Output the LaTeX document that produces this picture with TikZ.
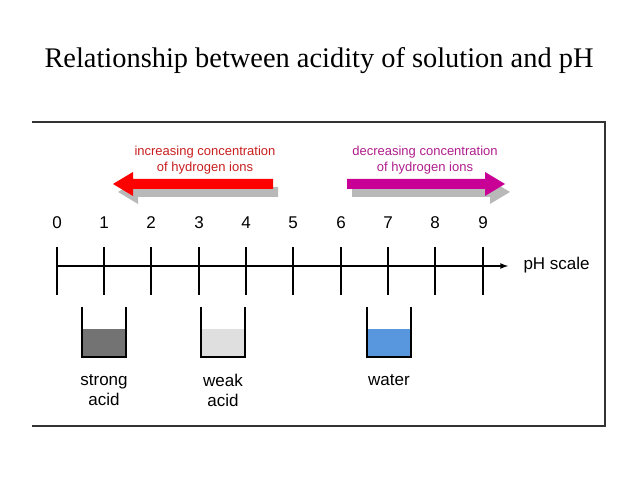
\documentclass[tikz,border=0pt]{standalone}
\usepackage{fontspec}
\setmainfont{Liberation Serif}
\newfontfamily\arial{Liberation Sans}
\definecolor{waterc}{RGB}{88,150,222}
\definecolor{purp}{RGB}{200,0,150}
\definecolor{purptxt}{RGB}{175,30,140}
\definecolor{redtxt}{RGB}{200,30,30}
\begin{document}
\begin{tikzpicture}[x=1pt,y=-1pt,
  lbl/.style={font=\arial\fontsize{17}{20}\selectfont,align=center},
  small/.style={font=\arial\fontsize{13}{16}\selectfont,align=center},
  beak/.style={line width=2.2pt,line join=miter}]
\useasboundingbox (0,0) rectangle (638,478);
\node (title) at (319,61) {\fontsize{28.4}{32}\selectfont Relationship between acidity of solution and pH};
\draw[line width=1.2pt,gray!40!black] (32,122) -- (605,122) -- (605,426) -- (32,426);
\newcommand{\harrow}[4]{%
  \fill[#4] (#1,#3-5) -- ({#2+(#1>#2?1:-1)*20},#3-5) -- ({#2+(#1>#2?1:-1)*20},#3-12) -- (#2,#3) -- ({#2+(#1>#2?1:-1)*20},#3+12) -- ({#2+(#1>#2?1:-1)*20},#3+5) -- (#1,#3+5) -- cycle;}
\begin{scope}[shift={(5,8)}]\harrow{273}{113}{184}{gray!55}\harrow{347}{505}{184}{gray!55}\end{scope}
\harrow{273}{113}{184}{red}
\harrow{347}{505}{184}{purp}
\node[small,text=redtxt] (inc) at (205,160) {increasing concentration\\of hydrogen ions};
\node[small,text=purptxt] (dec) at (425,160) {decreasing concentration\\of hydrogen ions};
\coordinate (s0) at (57,266);
\coordinate (s9) at (508,266);
\draw[line width=1.6pt,-latex] (s0) -- (s9);
\foreach \i/\x in {0/57,1/104,2/151,3/199,4/246,5/293,6/341,7/388,8/435,9/483}{
  \draw[line width=1.6pt] (\x,247) -- (\x,295);
  \node[lbl] (n\i) at (\x,223) {\i};}
\node[lbl,anchor=west] (ph) at (520,265) {pH scale};
\foreach \x/\c in {104/gray!110,223/gray!25,389/waterc}{
  \fill[\c] (\x-22,329) rectangle (\x+22,357);
  \draw[beak] (\x-22,307) -- (\x-22,357) -- (\x+22,357) -- (\x+22,307);}
\node[lbl] (sa) at (104,390) {strong\\acid};
\node[lbl] (wa) at (223,390) {weak\\acid};
\node[lbl] (wt) at (389,380) {water};
\end{tikzpicture}
\end{document}
